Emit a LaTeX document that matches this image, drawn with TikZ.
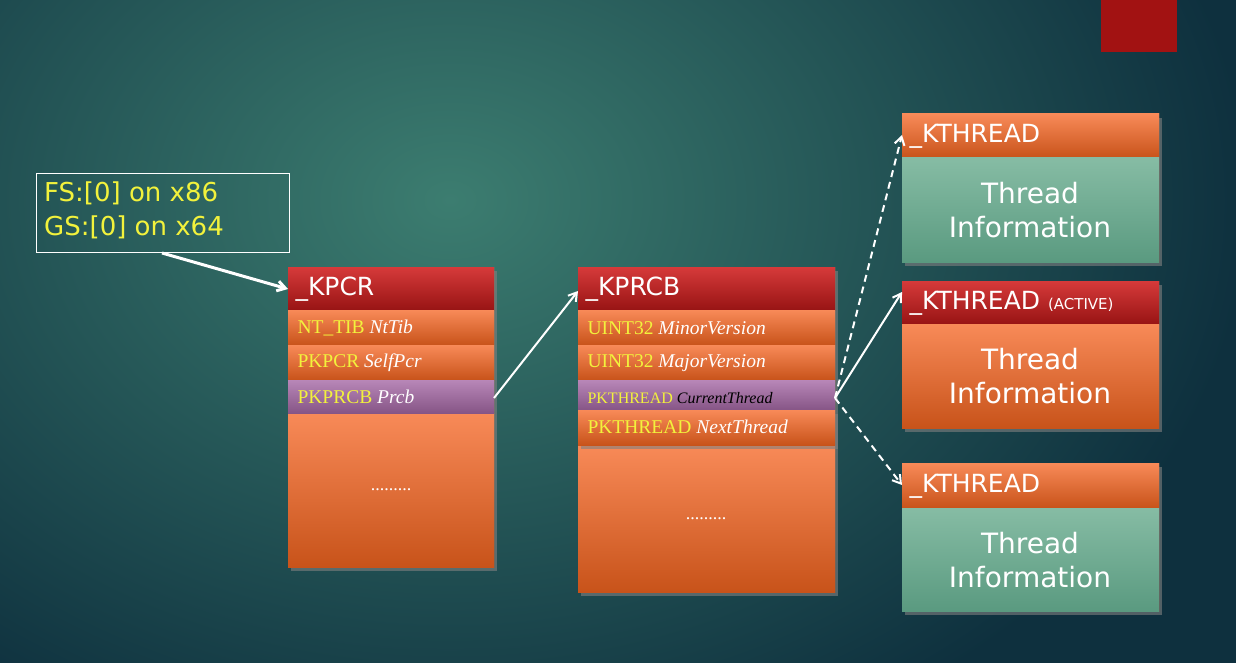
\documentclass[tikz,border=0pt]{standalone}
\usepackage{fontspec}
\setmainfont{Liberation Serif}
\newfontfamily\hd{DejaVu Sans}
\usetikzlibrary{arrows.meta,shadows}
\definecolor{ylw}{HTML}{F2F23C}
\definecolor{orT}{HTML}{F88A58}
\definecolor{orB}{HTML}{C8531A}
\definecolor{rdT}{HTML}{D63A3A}
\definecolor{rdB}{HTML}{981414}
\definecolor{puT}{HTML}{B887B8}
\definecolor{puB}{HTML}{865586}
\definecolor{grT}{HTML}{86BCA4}
\definecolor{grB}{HTML}{5A9A80}
\tikzset{
 x=1pt,y=-1pt,
 hdr/.style={top color=rdT,bottom color=rdB,draw=none},
 orow/.style={top color=orT,bottom color=orB,draw=none},
 prow/.style={top color=puT,bottom color=puB,draw=none},
 gbody/.style={top color=grT,bottom color=grB,draw=none},
 shad/.style={drop shadow={shadow xshift=3pt,shadow yshift=-4pt,opacity=0.6}},
 htxt/.style={anchor=west,text=white,font=\hd\fontsize{25}{28}\selectfont},
 rtxt/.style={anchor=west,font=\fontsize{19.5}{22}\selectfont},
 btxt/.style={align=center,text=white,font=\hd\fontsize{28}{34}\selectfont},
 arr/.style={-{Straight Barb[length=8pt,width=10pt]},white,line width=2pt},
 dsh/.style={dash pattern=on 7pt off 5pt},
}
\begin{document}
\begin{tikzpicture}
\useasboundingbox (0,0) rectangle (1236,663);
\shade[inner color={rgb,255:red,60;green,125;blue,112},outer color={rgb,255:red,14;green,48;blue,62}] (-350,-400) rectangle (1250,800);
\fill[rdB!90!red] (1101,0) rectangle (1177,52);
% FS box
\node[draw=white,line width=0.8pt,minimum width=253pt,minimum height=79pt,anchor=north west,inner sep=0] (fs) at (36,173) {};
\node[anchor=north west,align=left,text=ylw,font=\hd\fontsize{26}{34}\selectfont,inner sep=0] at (44,182) {FS:[0] on x86\\GS:[0] on x64};
% KPCR
\fill[orow,shad] (288,267) rectangle (494,567);
\fill[top color=orT,bottom color=orB] (288,413) rectangle (494,567);
\fill[hdr] (288,267) rectangle (494,310);
\fill[orow] (288,310) rectangle (494,345);
\fill[orow] (288,345) rectangle (494,380);
\fill[prow] (288,380) rectangle (494,413);
\node[htxt] (kpcr) at (292,289) {\_KPCR};
\node[rtxt] at (294,328) {\textcolor{ylw}{NT\_TIB} \textcolor{white}{\textit{NtTib}}};
\node[rtxt] at (294,363) {\textcolor{ylw}{PKPCR} \textcolor{white}{\textit{SelfPcr}}};
\node[rtxt] (prcb) at (294,397) {\textcolor{ylw}{PKPRCB} \textcolor{white}{\textit{Prcb}}};
\node[text=white,font=\fontsize{18}{20}\selectfont] at (391,490) {.........};
% KPRCB
\fill[orow,shad] (578,267) rectangle (835,592);
\fill[top color=orT,bottom color=orB] (578,445) rectangle (835,592);
\fill[hdr] (578,267) rectangle (835,310);
\fill[orow] (578,310) rectangle (835,345);
\fill[orow] (578,345) rectangle (835,380);
\fill[prow] (578,380) rectangle (835,410);
\fill[orow,shad] (578,410) rectangle (835,445);
\node[htxt] (kprcb) at (582,289) {\_KPRCB};
\node[rtxt] at (584,328) {\textcolor{ylw}{UINT32} \textcolor{white}{\textit{MinorVersion}}};
\node[rtxt] at (584,363) {\textcolor{ylw}{UINT32} \textcolor{white}{\textit{MajorVersion}}};
\node[rtxt,font=\fontsize{16}{18}\selectfont] at (584,398) {\textcolor{ylw}{PKTHREAD} \textcolor{black}{\textit{CurrentThread}}};
\node[rtxt] at (584,427) {\textcolor{ylw}{PKTHREAD} \textcolor{white}{\textit{NextThread}}};
\node[text=white,font=\fontsize{18}{20}\selectfont] at (706,519) {.........};
% threads
\fill[orow,shad] (902,114) rectangle (1159,262);
\fill[orow] (902,114) rectangle (1159,158);
\fill[gbody] (902,158) rectangle (1159,262);
\node[htxt] at (906,136) {\_KTHREAD};
\node[btxt] at (1030,210) {Thread\\Information};
\fill[orow,shad] (902,281) rectangle (1159,428);
\fill[hdr] (902,281) rectangle (1159,324);
\fill[orow] (902,324) rectangle (1159,428);
\node[htxt] at (906,303) {\_KTHREAD {\fontsize{15}{17}\selectfont(ACTIVE)}};
\node[btxt] at (1030,376) {Thread\\Information};
\fill[orow,shad] (902,463) rectangle (1159,611);
\fill[orow] (902,463) rectangle (1159,508);
\fill[gbody] (902,508) rectangle (1159,611);
\node[htxt] at (906,486) {\_KTHREAD};
\node[btxt] at (1030,560) {Thread\\Information};
% coordinates
\coordinate (a0) at (162,253); \coordinate (a1) at (288,289);
\coordinate (b0) at (494,398); \coordinate (b1) at (578,291);
\coordinate (c0) at (835,398);
\coordinate (t1) at (902,135); \coordinate (t2) at (902,292); \coordinate (t3) at (902,485);
\draw[arr,line width=3pt] (a0) -- (a1);
\draw[arr] (b0) -- (b1);
\draw[arr,dsh] (c0) -- (t1);
\draw[arr] (c0) -- (t2);
\draw[arr,dsh] (c0) -- (t3);
\end{tikzpicture}
\end{document}
